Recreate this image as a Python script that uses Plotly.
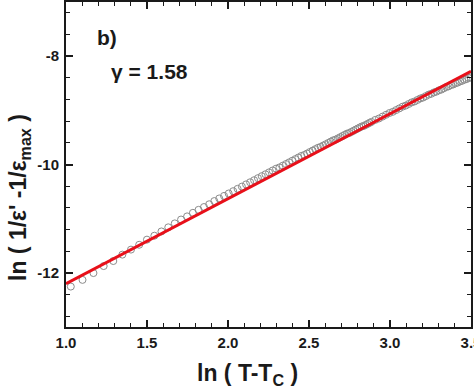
import plotly.graph_objects as go

# ln(T - Tc) values of the measured points
x_data = [1.0296, 1.1019, 1.1694, 1.2326, 1.2920, 1.3481, 1.4012, 1.4516, 1.4996, 1.5454,
          1.5892, 1.6312, 1.6715, 1.7102, 1.7475, 1.7834, 1.8181, 1.8516, 1.8840, 1.9155,
          1.9459, 1.9755, 2.0042, 2.0321, 2.0592, 2.0857, 2.1114, 2.1365, 2.1610, 2.1849,
          2.2083, 2.2311, 2.2534, 2.2752, 2.2966, 2.3175, 2.3380, 2.3580, 2.3777, 2.3970,
          2.4159, 2.4345, 2.4527, 2.4707, 2.4882, 2.5055, 2.5225, 2.5392, 2.5557, 2.5718,
          2.5878, 2.6034, 2.6189, 2.6340, 2.6490, 2.6638, 2.6783, 2.6926, 2.7068, 2.7207,
          2.7344, 2.7480, 2.7613, 2.7745, 2.7875, 2.8003, 2.8130, 2.8255, 2.8379, 2.8501,
          2.8622, 2.8741, 2.8859, 2.9091, 2.9317, 2.9539, 2.9756, 2.9967, 3.0175, 3.0378,
          3.0577, 3.0773, 3.0965, 3.1153, 3.1337, 3.1519, 3.1697, 3.1872, 3.2044, 3.2213,
          3.2379, 3.2543, 3.2704, 3.2862, 3.3018, 3.3171, 3.3322, 3.3471, 3.3618, 3.3762,
          3.3905, 3.4045, 3.4184, 3.4321, 3.4455, 3.4588, 3.4720, 3.4849, 3.4977]

# ln(1/eps' - 1/eps_max) values of the measured points
y_data = [-12.254, -12.130, -12.004, -11.875, -11.782, -11.664, -11.571, -11.482, -11.387, -11.315,
          -11.236, -11.160, -11.087, -11.016, -10.958, -10.892, -10.837, -10.785, -10.734, -10.675,
          -10.627, -10.580, -10.535, -10.492, -10.449, -10.408, -10.367, -10.328, -10.290, -10.252,
          -10.215, -10.180, -10.145, -10.111, -10.077, -10.054, -10.022, -9.991, -9.960, -9.930,
          -9.900, -9.871, -9.842, -9.824, -9.797, -9.769, -9.743, -9.717, -9.691, -9.675,
          -9.650, -9.626, -9.602, -9.578, -9.554, -9.541, -9.518, -9.496, -9.474, -9.452,
          -9.430, -9.419, -9.398, -9.378, -9.357, -9.337, -9.317, -9.298, -9.288, -9.269,
          -9.250, -9.231, -9.213, -9.177, -9.151, -9.116, -9.082, -9.049, -9.027, -8.995,
          -8.964, -8.933, -8.913, -8.883, -8.854, -8.836, -8.808, -8.781, -8.764, -8.737,
          -8.711, -8.695, -8.670, -8.655, -8.631, -8.617, -8.593, -8.570, -8.557, -8.534,
          -8.522, -8.500, -8.488, -8.466, -8.455, -8.435, -8.424, -8.404, -8.394]

# linear fit line (red)
fit_x = [1.0, 3.5]
fit_y = [-12.20, -8.28]

x_tickvals = [1.0, 1.5, 2.0, 2.5, 3.0, 3.5]
x_ticktext = ["1.0", "1.5", "2.0", "2.5", "3.0", "3.5"]
y_tickvals = [-12, -10, -8]
y_ticktext = ["-12", "-10", "-8"]

panel_label = "b)"
gamma_label = "γ = 1.58"

FONT = "Liberation Sans, Arial, sans-serif"
AX = "#1a1a1a"

fig = go.Figure()
fig.add_trace(go.Scatter(
    x=x_data, y=y_data, mode="markers",
    marker=dict(symbol="circle-open", size=7, color="#8c8c8c", line=dict(width=1, color="#8c8c8c")),
    showlegend=False, hoverinfo="skip"))
fig.add_trace(go.Scatter(
    x=fit_x, y=fit_y, mode="lines",
    line=dict(color="#e8101a", width=3),
    showlegend=False, hoverinfo="skip"))

fig.update_layout(
    width=474, height=389,
    margin=dict(l=66, r=3, t=2, b=62),
    paper_bgcolor="white", plot_bgcolor="white",
    font=dict(family=FONT, color=AX),
    xaxis=dict(
        range=[1.0, 3.5], tickmode="array", tickvals=x_tickvals, ticktext=x_ticktext,
        ticks="inside", ticklen=7, tickwidth=1.5, tickcolor=AX,
        minor=dict(ticks="inside", tick0=1.0, dtick=0.1, ticklen=4, tickwidth=1.2, tickcolor=AX),
        showline=True, linecolor=AX, linewidth=2, mirror="allticks",
        showgrid=False, zeroline=False, automargin=False,
        tickfont=dict(family=FONT, size=15, color=AX, weight="bold"),
        ticklabelstandoff=1, ticklabeloverflow="allow",
    ),
    yaxis=dict(
        range=[-13, -7], tickmode="array", tickvals=y_tickvals, ticktext=y_ticktext,
        ticks="inside", ticklen=7, tickwidth=1.5, tickcolor=AX,
        minor=dict(ticks="inside", tick0=-12, dtick=0.4, ticklen=4, tickwidth=1.2, tickcolor=AX),
        showline=True, linecolor=AX, linewidth=2, mirror="allticks",
        showgrid=False, zeroline=False, automargin=False,
        tickfont=dict(family=FONT, size=15, color=AX, weight="bold"),
        ticklabelstandoff=2, ticklabeloverflow="allow",
    ),
    annotations=[
        dict(text=panel_label, x=1.25, y=-7.65, xref="x", yref="y", showarrow=False,
             font=dict(family=FONT, size=21, color=AX, weight="bold")),
        dict(text=gamma_label, x=1.515, y=-8.29, xref="x", yref="y", showarrow=False,
             font=dict(family=FONT, size=21, color=AX, weight="bold")),
        dict(text="ln ( T-T<sub>C</sub> )", x=(247 - 66) / 405, y=(327 - 374) / 325,
             xref="paper", yref="paper", showarrow=False, xanchor="center", yanchor="middle",
             font=dict(family=FONT, size=23, color=AX, weight="bold")),
        dict(text="ln ( 1/ε' -1/ε<sub>max</sub> )", x=(19 - 66) / 405, y=(327 - 198) / 325,
             xref="paper", yref="paper", showarrow=False, xanchor="center", yanchor="middle",
             textangle=-90,
             font=dict(family=FONT, size=23, color=AX, weight="bold")),
    ],
)

fig.write_html("out.html", config={"displayModeBar": False},
               post_script="document.body.style.margin='0px';document.body.style.overflow='hidden';")
